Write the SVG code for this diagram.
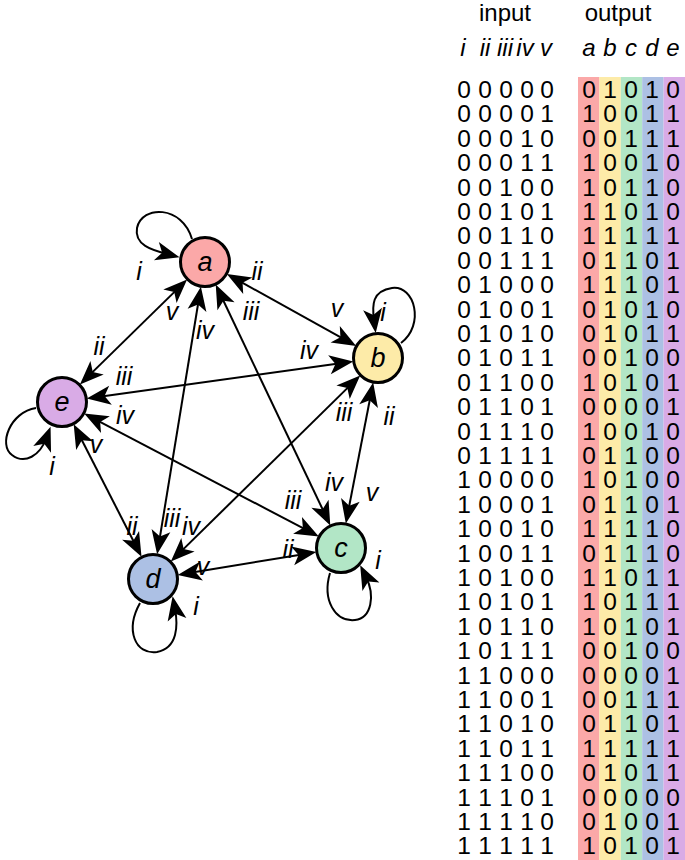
<svg xmlns="http://www.w3.org/2000/svg" width="685" height="860" viewBox="0 0 685 860">
<defs>
<style>
.edge{fill:none;stroke:#000;stroke-width:2;marker-start:url(#ah);marker-end:url(#ah)}
.loop{fill:none;stroke:#000;stroke-width:2;marker-end:url(#ah)}
.node{stroke:#000;stroke-width:3}
.nl{font-family:"Liberation Sans",Arial,sans-serif;font-style:italic;font-size:27px;text-anchor:middle;fill:#000}
.el{font-family:"Liberation Sans",Arial,sans-serif;font-style:italic;font-size:25px;text-anchor:middle;fill:#000}
.t{font-family:"Liberation Sans",Arial,sans-serif;font-size:24.5px;text-anchor:middle;fill:#000}
.h{font-family:"Liberation Sans",Arial,sans-serif;font-size:24px;text-anchor:middle;fill:#000}
.hi{font-family:"Liberation Sans",Arial,sans-serif;font-style:italic;font-size:24px;text-anchor:middle;fill:#000}
</style>
<marker id="ah" viewBox="-10 -11 28 22" refX="3" refY="0" markerWidth="28" markerHeight="22" markerUnits="userSpaceOnUse" orient="auto-start-reverse">
<path d="M16,0 L-8,-9.5 L-2,0 L-8,9.5 z" fill="#000"/>
</marker>
</defs>

<g id="connectors">
<path class="edge" d="M238.2,280.4 L344.8,339.6"/>
<path class="edge" d="M221.3,296.3 L324.7,513.7"/>
<path class="edge" d="M198.8,299.5 L159.2,541.5"/>
<path class="edge" d="M177.8,288.6 L89.2,375.4"/>
<path class="edge" d="M370.7,395.3 L348.3,510.7"/>
<path class="edge" d="M350.9,384.6 L180.1,552.4"/>
<path class="edge" d="M340.4,363.2 L99.6,396.8"/>
<path class="edge" d="M303.5,554.2 L190.5,572.8"/>
<path class="edge" d="M307.3,530.4 L95.7,419.6"/>
<path class="edge" d="M135.6,545.2 L79.6,435.8"/>
<path class="loop" d="M192,239 C182,205 142,205 137,228 C134,245 152,250 167,254"/>
<path class="loop" d="M401,343 C425,325 415,285 392,288 C372,291 372,305 374,320"/>
<path class="loop" d="M36,408 C10,412 -2,445 12,455 C25,465 40,455 46,439"/>
<path class="loop" d="M140,603 C125,630 135,655 157,652 C178,648 178,625 175,609"/>
<path class="loop" d="M330,573 C322,600 335,622 355,620 C372,618 375,595 366,577"/>
<text class="el" x="139" y="280">i</text>
<text class="el" x="99" y="355">ii</text>
<text class="el" x="172" y="320">v</text>
<text class="el" x="205" y="339">iv</text>
<text class="el" x="124" y="385">iii</text>
<text class="el" x="125" y="424">iv</text>
<text class="el" x="257" y="280">ii</text>
<text class="el" x="337" y="317">v</text>
<text class="el" x="251" y="320">iii</text>
<text class="el" x="383" y="321">i</text>
<text class="el" x="309" y="359">iv</text>
<text class="el" x="344" y="421">iii</text>
<text class="el" x="389" y="425">ii</text>
<text class="el" x="52" y="475">i</text>
<text class="el" x="96" y="453">v</text>
<text class="el" x="132" y="535">ii</text>
<text class="el" x="172" y="527">iii</text>
<text class="el" x="191" y="535">iv</text>
<text class="el" x="203" y="575">v</text>
<text class="el" x="196" y="615">i</text>
<text class="el" x="334" y="491">iv</text>
<text class="el" x="372" y="501">v</text>
<text class="el" x="293" y="509">iii</text>
<text class="el" x="288" y="558">ii</text>
<text class="el" x="378" y="569">i</text>
</g>

<g id="node-a"><circle class="node" cx="205" cy="262" r="24.5" fill="#fba8a8"/><text class="nl" x="205" y="271">a</text></g>
<g id="node-b"><circle class="node" cx="378" cy="358" r="24.5" fill="#fdeba8"/><text class="nl" x="378" y="367">b</text></g>
<g id="node-c"><circle class="node" cx="341" cy="548" r="24.5" fill="#b2e6c6"/><text class="nl" x="341" y="557">c</text></g>
<g id="node-d"><circle class="node" cx="153" cy="579" r="24.5" fill="#acc0e4"/><text class="nl" x="153" y="588">d</text></g>
<g id="node-e"><circle class="node" cx="62" cy="402" r="24.5" fill="#d9abe6"/><text class="nl" x="62" y="411">e</text></g>

<g id="table">
<rect x="578" y="77" width="21.4" height="783" fill="#fba8a8"/>
<rect x="599.4" y="77" width="21.4" height="783" fill="#fdeba8"/>
<rect x="620.8" y="77" width="21.4" height="783" fill="#b2e6c6"/>
<rect x="642.2" y="77" width="21.4" height="783" fill="#acc0e4"/>
<rect x="663.6" y="77" width="21.4" height="783" fill="#d9abe6"/>
<text class="h" x="505" y="21">input</text>
<text class="h" x="618" y="21">output</text>
<text class="hi" x="463" y="56">i</text>
<text class="hi" x="485" y="56">ii</text>
<text class="hi" x="505" y="56">iii</text>
<text class="hi" x="525" y="56">iv</text>
<text class="hi" x="546" y="56">v</text>
<text class="hi" x="589" y="56">a</text>
<text class="hi" x="610" y="56">b</text>
<text class="hi" x="631" y="56">c</text>
<text class="hi" x="652" y="56">d</text>
<text class="hi" x="673" y="56">e</text>
<g id="inputs">
<text class="t" x="464 474 485 495 506 516 527 537 547" y="98">0 0 0 0 0</text>
<text class="t" x="464 474 485 495 506 516 527 537 547" y="122.4">0 0 0 0 1</text>
<text class="t" x="464 474 485 495 506 516 527 537 547" y="146.8">0 0 0 1 0</text>
<text class="t" x="464 474 485 495 506 516 527 537 547" y="171.2">0 0 0 1 1</text>
<text class="t" x="464 474 485 495 506 516 527 537 547" y="195.6">0 0 1 0 0</text>
<text class="t" x="464 474 485 495 506 516 527 537 547" y="220">0 0 1 0 1</text>
<text class="t" x="464 474 485 495 506 516 527 537 547" y="244.4">0 0 1 1 0</text>
<text class="t" x="464 474 485 495 506 516 527 537 547" y="268.8">0 0 1 1 1</text>
<text class="t" x="464 474 485 495 506 516 527 537 547" y="293.2">0 1 0 0 0</text>
<text class="t" x="464 474 485 495 506 516 527 537 547" y="317.6">0 1 0 0 1</text>
<text class="t" x="464 474 485 495 506 516 527 537 547" y="342">0 1 0 1 0</text>
<text class="t" x="464 474 485 495 506 516 527 537 547" y="366.4">0 1 0 1 1</text>
<text class="t" x="464 474 485 495 506 516 527 537 547" y="390.8">0 1 1 0 0</text>
<text class="t" x="464 474 485 495 506 516 527 537 547" y="415.2">0 1 1 0 1</text>
<text class="t" x="464 474 485 495 506 516 527 537 547" y="439.6">0 1 1 1 0</text>
<text class="t" x="464 474 485 495 506 516 527 537 547" y="464">0 1 1 1 1</text>
<text class="t" x="464 474 485 495 506 516 527 537 547" y="488.4">1 0 0 0 0</text>
<text class="t" x="464 474 485 495 506 516 527 537 547" y="512.8">1 0 0 0 1</text>
<text class="t" x="464 474 485 495 506 516 527 537 547" y="537.2">1 0 0 1 0</text>
<text class="t" x="464 474 485 495 506 516 527 537 547" y="561.6">1 0 0 1 1</text>
<text class="t" x="464 474 485 495 506 516 527 537 547" y="586">1 0 1 0 0</text>
<text class="t" x="464 474 485 495 506 516 527 537 547" y="610.4">1 0 1 0 1</text>
<text class="t" x="464 474 485 495 506 516 527 537 547" y="634.8">1 0 1 1 0</text>
<text class="t" x="464 474 485 495 506 516 527 537 547" y="659.2">1 0 1 1 1</text>
<text class="t" x="464 474 485 495 506 516 527 537 547" y="683.6">1 1 0 0 0</text>
<text class="t" x="464 474 485 495 506 516 527 537 547" y="708">1 1 0 0 1</text>
<text class="t" x="464 474 485 495 506 516 527 537 547" y="732.4">1 1 0 1 0</text>
<text class="t" x="464 474 485 495 506 516 527 537 547" y="756.8">1 1 0 1 1</text>
<text class="t" x="464 474 485 495 506 516 527 537 547" y="781.2">1 1 1 0 0</text>
<text class="t" x="464 474 485 495 506 516 527 537 547" y="805.6">1 1 1 0 1</text>
<text class="t" x="464 474 485 495 506 516 527 537 547" y="830">1 1 1 1 0</text>
<text class="t" x="464 474 485 495 506 516 527 537 547" y="854.4">1 1 1 1 1</text>
</g>
<g id="outputs">
<text class="t" x="589 599 610 620 631 641 652 662 673" y="98">0 1 0 1 0</text>
<text class="t" x="589 599 610 620 631 641 652 662 673" y="122.4">1 0 0 1 1</text>
<text class="t" x="589 599 610 620 631 641 652 662 673" y="146.8">0 0 1 1 1</text>
<text class="t" x="589 599 610 620 631 641 652 662 673" y="171.2">1 0 0 1 0</text>
<text class="t" x="589 599 610 620 631 641 652 662 673" y="195.6">1 0 1 1 0</text>
<text class="t" x="589 599 610 620 631 641 652 662 673" y="220">1 1 0 1 0</text>
<text class="t" x="589 599 610 620 631 641 652 662 673" y="244.4">1 1 1 1 1</text>
<text class="t" x="589 599 610 620 631 641 652 662 673" y="268.8">0 1 1 0 1</text>
<text class="t" x="589 599 610 620 631 641 652 662 673" y="293.2">1 1 1 0 1</text>
<text class="t" x="589 599 610 620 631 641 652 662 673" y="317.6">0 1 0 1 0</text>
<text class="t" x="589 599 610 620 631 641 652 662 673" y="342">0 1 0 1 1</text>
<text class="t" x="589 599 610 620 631 641 652 662 673" y="366.4">0 0 1 0 0</text>
<text class="t" x="589 599 610 620 631 641 652 662 673" y="390.8">1 0 1 0 1</text>
<text class="t" x="589 599 610 620 631 641 652 662 673" y="415.2">0 0 0 0 1</text>
<text class="t" x="589 599 610 620 631 641 652 662 673" y="439.6">1 0 0 1 0</text>
<text class="t" x="589 599 610 620 631 641 652 662 673" y="464">0 1 1 0 0</text>
<text class="t" x="589 599 610 620 631 641 652 662 673" y="488.4">1 0 1 0 0</text>
<text class="t" x="589 599 610 620 631 641 652 662 673" y="512.8">0 1 1 0 1</text>
<text class="t" x="589 599 610 620 631 641 652 662 673" y="537.2">1 1 1 1 0</text>
<text class="t" x="589 599 610 620 631 641 652 662 673" y="561.6">0 1 1 1 0</text>
<text class="t" x="589 599 610 620 631 641 652 662 673" y="586">1 1 0 1 1</text>
<text class="t" x="589 599 610 620 631 641 652 662 673" y="610.4">1 0 1 1 1</text>
<text class="t" x="589 599 610 620 631 641 652 662 673" y="634.8">1 0 1 0 1</text>
<text class="t" x="589 599 610 620 631 641 652 662 673" y="659.2">0 0 1 0 0</text>
<text class="t" x="589 599 610 620 631 641 652 662 673" y="683.6">0 0 0 0 1</text>
<text class="t" x="589 599 610 620 631 641 652 662 673" y="708">0 0 1 1 1</text>
<text class="t" x="589 599 610 620 631 641 652 662 673" y="732.4">0 1 1 0 1</text>
<text class="t" x="589 599 610 620 631 641 652 662 673" y="756.8">1 1 1 1 1</text>
<text class="t" x="589 599 610 620 631 641 652 662 673" y="781.2">0 1 0 1 1</text>
<text class="t" x="589 599 610 620 631 641 652 662 673" y="805.6">0 0 0 0 0</text>
<text class="t" x="589 599 610 620 631 641 652 662 673" y="830">0 1 0 0 1</text>
<text class="t" x="589 599 610 620 631 641 652 662 673" y="854.4">1 0 1 0 1</text>
</g>
</g>
</svg>
